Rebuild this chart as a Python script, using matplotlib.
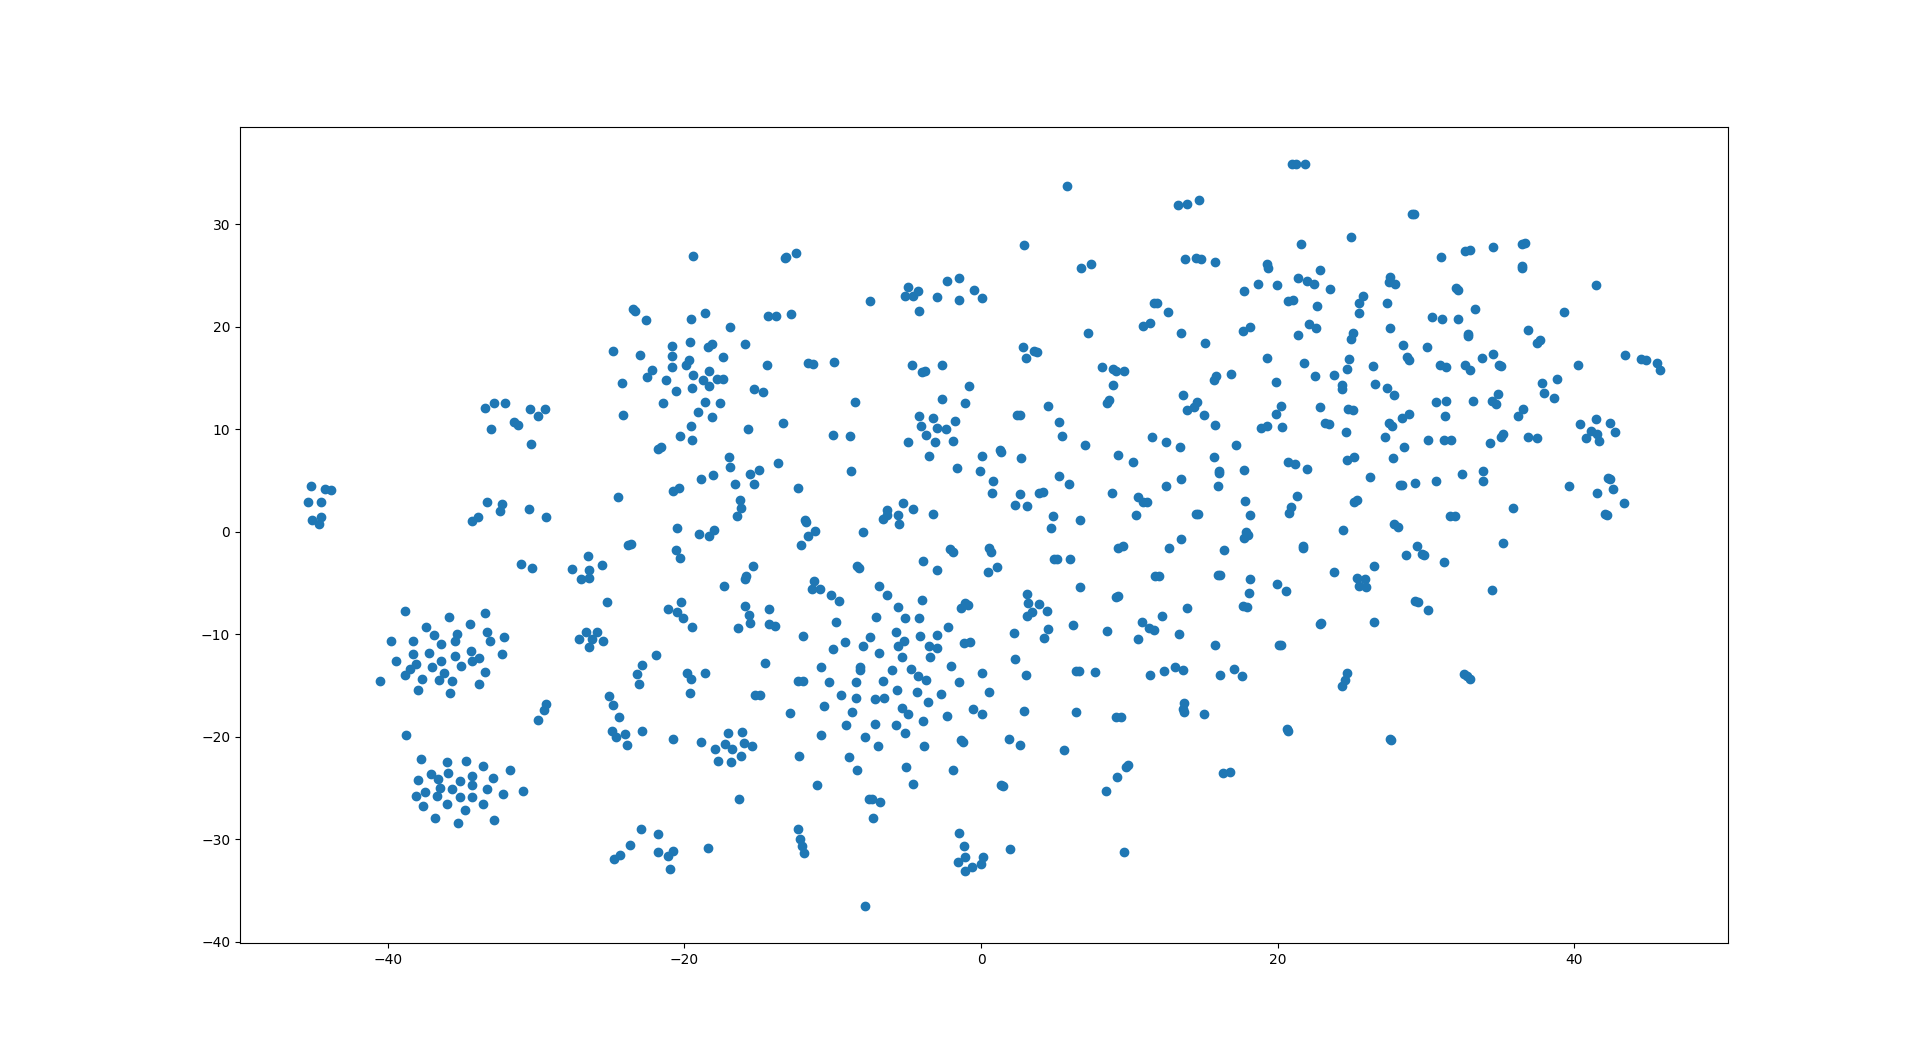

import numpy as np
import matplotlib
matplotlib.use("Agg")
import matplotlib.pyplot as plt

far_left = [
    (-45.2, 4.45), (-44.2, 4.15), (-43.8, 4.06), (-45.4, 2.89), (-44.5, 2.89), (-45.1, 1.13),
    (-44.5, 1.42), (-44.65, 0.74), (-33.3, 2.89), (-32.3, 2.69), (-32.45, 2.0), (-33.9, 1.42),
    (-34.3, 1.03), (-30.5, 2.2), (-29.35, 1.42), (-33.46, 12.06), (-32.85, 12.55), (-32.1, 12.6),
    (-30.4, 11.96), (-29.4, 11.96), (-29.9, 11.28), (-31.46, 10.69), (-31.2, 10.4), (-33.06, 10.0),
    (-30.36, 8.55), (-31.03, -3.16), (-30.3, -3.55), (-26.5, -2.38), (-25.57, -3.26), (-27.6, -3.65),
    (-26.4, -3.75), (-27.0, -4.63), (-26.4, -4.53), (-25.24, -6.87), (-26.65, -9.8), (-25.9, -9.8),
    (-27.1, -10.48), (-26.25, -10.48), (-25.5, -10.67), (-26.4, -11.26),
]
cluster_a = [
    (-38.84, -7.75), (-35.88, -8.34), (-33.45, -7.95), (-34.46, -9.02), (-37.43, -9.31), (-36.9, -10.09),
    (-35.34, -10.0), (-33.32, -9.8), (-32.17, -10.29), (-39.79, -10.68), (-38.3, -10.68), (-36.42, -10.97),
    (-35.47, -10.68), (-33.11, -10.68), (-38.3, -11.95), (-37.23, -11.85), (-34.39, -11.65), (-35.47, -12.14),
    (-33.85, -12.34), (-34.33, -12.63), (-32.3, -11.95), (-39.45, -12.63), (-36.42, -12.63), (-38.1, -12.92),
    (-37.02, -13.21), (-35.07, -13.12), (-38.5, -13.41), (-38.84, -14.0), (-36.2, -13.8), (-33.45, -13.7),
    (-37.7, -14.39), (-36.55, -14.48), (-35.68, -14.58), (-40.53, -14.58), (-33.85, -14.87), (-37.97, -15.46),
    (-35.81, -15.75),
]
cluster_b = [
    (-38.79, -19.84), (-37.78, -22.19), (-36.02, -22.48), (-34.74, -22.38), (-33.6, -22.87), (-31.78, -23.26),
    (-37.1, -23.65), (-35.96, -23.55), (-36.63, -24.14), (-37.98, -24.23), (-34.34, -23.84), (-32.92, -24.04),
    (-35.15, -24.33), (-34.34, -24.72), (-36.5, -25.02), (-35.69, -25.11), (-33.33, -25.11), (-37.5, -25.4),
    (-38.1, -25.8), (-36.7, -25.8), (-35.15, -25.89), (-34.34, -25.89), (-32.25, -25.6), (-30.9, -25.3),
    (-37.64, -26.77), (-36.02, -26.58), (-33.6, -26.58), (-34.81, -27.16), (-36.83, -27.94), (-35.28, -28.43),
    (-32.85, -28.14), (-29.35, -16.82), (-29.48, -17.4), (-29.89, -18.38),
]
lower_left = [
    (-25.1, -16.04), (-24.83, -16.92), (-24.43, -18.09), (-24.9, -19.45), (-24.63, -20.04), (-24.02, -19.75),
    (-22.88, -19.45), (-23.89, -20.82), (-20.79, -20.23), (-18.9, -20.53), (-17.96, -21.21), (-17.75, -22.38),
    (-22.95, -29.0), (-21.8, -29.5), (-23.69, -30.58), (-24.36, -31.55), (-24.77, -31.94), (-21.8, -31.26),
    (-20.79, -31.16), (-21.13, -31.65), (-20.99, -32.92), (-18.43, -30.87), (-23.2, -13.89), (-23.08, -14.87),
    (-19.84, -13.73), (-19.57, -14.38), (-19.64, -15.75), (-18.63, -13.73),
    (-17.07, -19.65), (-16.12, -19.55), (-17.27, -20.72), (-15.99, -20.63), (-15.45, -20.92), (-16.8, -21.21),
    (-16.19, -21.89), (-16.87, -22.48), (-12.28, -21.89), (-16.33, -26.09), (-11.07, -24.72),
]
middle = [
    (-20.8, 3.95), (-20.38, 4.25), (-16.6, 4.64), (-15.32, 4.64), (-12.36, 4.25), (-16.27, 3.08),
    (-16.2, 2.3), (-16.47, 1.52), (-20.51, 0.34), (-19.03, -0.24), (-18.36, -0.44), (-18.02, 0.15),
    (-11.89, 1.13), (-11.82, 0.93), (-11.2, 0.05), (-11.68, -0.44), (-12.16, -1.31), (-5.28, 2.78),
    (-6.36, 2.1), (-4.6, 2.2), (-5.62, 1.61), (-6.63, 1.22), (-6.36, 1.61), (-5.55, 0.73),
    (-3.26, 1.71), (-7.98, -0.05), (0.52, -1.61), (0.65, -2.0), (1.06, -3.46), (0.45, -3.95),
    (-2.11, -1.7), (-1.91, -2.0), (-3.93, -2.87), (-2.99, -3.75), (-8.34, -3.36), (-8.2, -3.56),
    (-23.82, -1.28), (-23.62, -1.18), (-20.58, -1.8), (-20.31, -2.58), (-15.4, -3.36), (-15.86, -4.34),
    (-15.93, -4.63), (-17.35, -5.31), (-11.28, -4.83), (-11.41, -5.61), (-10.87, -5.61), (-10.13, -6.19),
    (-9.59, -6.78), (-6.9, -5.31), (-6.36, -6.19), (-4.0, -6.68), (-5.62, -7.36), (-1.1, -6.97),
    (-0.9, -7.17), (-1.37, -7.46), (-20.25, -6.87), (-21.12, -7.56), (-20.51, -7.85), (-20.11, -8.44),
    (-19.5, -9.31), (-15.93, -7.27), (-15.66, -8.14), (-15.59, -8.92), (-16.4, -9.41), (-14.31, -7.56),
    (-14.31, -9.02), (-13.91, -9.22), (-9.8, -8.83), (-7.1, -8.34), (-5.14, -8.44), (-4.2, -8.44),
    (-2.24, -9.31), (-5.75, -9.8), (-12.0, -10.19), (-7.5, -10.29), (-4.13, -10.19), (-2.99, -10.09),
    (-9.19, -10.78), (-5.21, -10.68), (-5.62, -11.17), (-7.98, -11.17), (-3.53, -11.17), (-2.99, -11.36),
    (-1.17, -10.88), (-0.76, -10.78), (-10.0, -11.46), (-6.9, -11.85), (-5.35, -12.24), (-3.46, -12.24),
    (-21.93, -12.05), (-22.87, -13.02), (-14.58, -12.83), (-10.81, -13.22), (-8.18, -13.22), (-8.18, -13.51),
    (-6.02, -13.51), (-4.74, -13.41), (-2.04, -13.12), (-4.27, -14.1), (-3.73, -14.48), (0.05, -13.8),
    (-12.36, -14.58), (-12.02, -14.58), (-10.27, -14.68), (-8.45, -14.68), (-6.63, -14.58), (-1.5, -14.68),
    (-5.68, -15.46), (-4.34, -15.66), (-2.72, -15.85), (0.52, -15.66), (-15.26, -15.95), (-14.92, -15.95),
    (-9.46, -15.95), (-8.45, -16.24), (-7.17, -16.34), (-6.56, -16.24), (-3.59, -16.63), (-10.6, -17.02),
    (-5.35, -17.22), (-0.56, -17.31), (-8.72, -17.61), (-4.94, -17.8), (0.05, -17.8), (-12.9, -17.7),
    (-2.31, -18.0), (-3.93, -18.48), (-9.12, -18.87), (-7.17, -18.78), (-5.75, -18.87), (-5.14, -19.65),
    (-10.81, -19.85), (-7.84, -20.05), (-1.37, -20.34), (-1.23, -20.53), (-6.96, -20.92), (-3.86, -20.92),
]
lower_middle = [
    (2.89, -17.5), (6.37, -17.6), (1.88, -20.23), (2.62, -20.82), (5.58, -21.31),
    (-8.91, -21.99), (-8.37, -23.26), (-5.07, -22.97), (-1.9, -23.26), (-4.6, -24.62), (1.34, -24.72),
    (1.47, -24.82), (-7.56, -26.09), (-7.36, -26.09), (-6.82, -26.38), (-7.29, -27.94), (-12.35, -29.0),
    (-12.21, -29.99), (-12.08, -30.67), (-11.94, -31.36), (-1.5, -29.4), (-1.16, -30.67), (-1.09, -31.75),
    (-1.56, -32.23), (0.12, -31.75), (-0.01, -32.43), (-0.62, -32.72), (-1.09, -33.11), (1.94, -30.97),
    (-7.83, -36.53),
]
upper_left = [
    (-19.43, 26.88), (-13.23, 26.69), (-13.14, 26.78), (-12.49, 27.17), (-23.47, 21.71), (-23.34, 21.52),
    (-22.6, 20.64), (-19.56, 20.73), (-18.62, 21.32), (-16.94, 19.95), (-14.37, 21.03), (-13.83, 21.03),
    (-12.82, 21.22), (-7.5, 22.49), (-4.94, 23.86), (-4.26, 23.47), (-5.14, 22.98), (-4.6, 22.98),
    (-2.98, 22.88), (-2.31, 24.44), (-1.5, 24.73), (-1.5, 22.59), (-4.19, 21.52), (-24.82, 17.61),
    (-23.0, 17.22), (-20.85, 18.1), (-19.63, 18.49), (-18.15, 18.3), (-18.42, 18.0), (-15.92, 18.3),
    (-20.85, 17.12), (-19.7, 16.73), (-19.9, 16.25), (-17.41, 17.03), (-20.85, 16.05), (-22.19, 15.76),
    (-22.53, 15.08), (-18.35, 15.66), (-19.43, 15.27), (-21.25, 14.78), (-18.76, 14.78), (-17.81, 14.88),
    (-17.41, 14.88), (-24.22, 14.49), (-19.5, 14.0), (-18.35, 14.2), (-15.32, 13.9), (-14.71, 13.61),
    (-20.58, 13.71), (-14.44, 16.25), (-11.68, 16.44), (-11.34, 16.34), (-9.92, 16.54), (-4.67, 16.25),
    (-3.95, 15.6), (-3.8, 15.72), (-2.64, 16.25), (-21.45, 12.54), (-18.62, 12.64), (-17.61, 12.54),
    (-8.51, 12.64), (-2.64, 12.93), (-19.09, 11.66), (-24.15, 11.37), (-18.15, 11.17), (-4.19, 11.27),
    (-3.25, 11.08), (-1.77, 10.78), (-4.06, 10.3), (-2.98, 10.1), (-2.37, 10.0), (-13.36, 10.59),
    (-19.56, 10.3), (-15.72, 10.0), (-3.72, 9.42), (-20.3, 9.32), (-9.99, 9.42), (-8.85, 9.32),
    (-19.5, 8.93), (-4.94, 8.73), (-3.11, 8.73), (-1.9, 8.83), (-21.79, 8.05), (-21.59, 8.25),
    (-3.52, 7.37), (-17.0, 7.27), (-16.94, 6.3), (-13.7, 6.69), (-1.63, 6.2), (-14.98, 6.0),
    (-15.59, 5.61), (-18.08, 5.52), (-18.89, 5.13), (-8.78, 5.9), (-24.45, 3.45),
]
upper_centre = [
    (5.8, 33.7), (13.3, 31.85), (13.9, 32.0), (14.7, 32.4), (-0.48, 23.56), (0.06, 22.78),
    (2.89, 27.95), (6.73, 25.71), (7.41, 26.1), (13.74, 26.59), (14.49, 26.69), (14.82, 26.59),
    (15.77, 26.3), (11.65, 22.3), (11.86, 22.3), (12.6, 21.42), (10.91, 20.05), (11.38, 20.34),
    (13.47, 19.37), (15.09, 18.39), (7.2, 19.37), (2.82, 18.0), (3.56, 17.61), (3.77, 17.52),
    (3.03, 16.93), (8.15, 16.05), (8.89, 15.86), (9.09, 15.66), (9.63, 15.66), (8.89, 14.3),
    (16.85, 15.37), (15.83, 15.17), (15.7, 14.78), (8.49, 12.54), (8.62, 12.83), (13.61, 13.32),
    (14.55, 12.64), (14.35, 12.15), (13.88, 11.86), (15.02, 11.37), (15.77, 10.39), (4.51, 12.25),
    (-0.82, 14.2), (-1.09, 12.54), (2.4, 11.37), (2.6, 11.37), (5.25, 10.69), (5.45, 9.32),
    (7.0, 8.44), (11.52, 9.22), (12.46, 8.73), (13.41, 8.25), (17.18, 8.44), (1.27, 7.95),
    (1.34, 7.76), (0.06, 7.37), (2.69, 7.17), (9.23, 7.47), (10.24, 6.78), (15.7, 7.27),
    (-0.08, 5.9), (16.04, 5.9), (16.04, 5.7), (17.72, 6.0), (0.8, 4.93), (5.25, 5.42),
    (5.92, 4.64), (13.47, 5.13), (12.46, 4.44), (15.97, 4.44), (0.73, 3.76), (2.62, 3.66),
    (3.9, 3.76), (4.17, 3.86), (8.82, 3.76),
]
lower_centre = [
    (2.28, 2.59), (3.09, 2.49), (10.58, 3.37), (10.91, 2.88), (11.18, 2.88), (10.44, 1.61),
    (17.79, 2.98), (18.13, 1.61), (21.3, 3.47), (20.89, 2.39), (20.76, 1.81), (25.34, 3.08),
    (25.14, 2.88), (4.85, 1.52), (6.67, 1.13), (4.71, 0.34), (14.5, 1.71), (14.62, 1.71),
    (9.56, -1.41), (9.23, -1.61), (17.86, -0.05), (17.99, -0.34), (17.72, -0.63), (24.4, 0.15),
    (13.47, -0.73), (12.67, -1.61), (16.37, -1.8), (21.7, -1.35), (21.7, -1.6), (4.91, -2.68),
    (5.12, -2.68), (5.99, -2.68), (26.49, -3.36), (23.79, -3.95), (11.7, -4.34), (12.0, -4.34),
    (16.0, -4.24), (16.1, -4.24), (18.13, -4.63), (6.67, -5.41), (25.34, -4.53), (25.88, -4.63),
    (25.47, -5.31), (25.97, -5.41), (19.95, -5.12), (20.55, -5.8), (18.06, -6.0), (9.23, -6.29),
    (9.09, -6.39), (3.09, -6.1), (3.16, -6.97), (3.9, -7.07), (4.44, -7.75), (3.43, -7.85),
    (3.09, -8.24), (13.88, -7.46), (17.65, -7.27), (17.92, -7.36), (12.19, -8.24), (10.85, -8.83),
    (11.32, -9.41), (11.65, -9.61), (6.19, -9.12), (4.51, -9.51), (4.24, -10.39), (2.22, -9.9),
    (8.49, -9.7), (10.58, -10.49), (13.34, -9.99), (15.77, -11.07), (20.1, -11.07), (20.25, -11.07),
    (22.85, -8.98), (22.95, -8.86), (26.49, -8.83), (2.28, -12.44), (3.03, -14.0), (6.4, -13.61),
    (6.6, -13.61), (7.68, -13.7), (11.39, -14.0), (12.33, -13.61), (13.07, -13.22), (13.61, -13.51),
    (16.1, -14.0), (17.05, -13.41), (17.59, -14.1), (24.67, -13.8), (24.53, -14.48), (24.33, -15.07),
    (13.68, -16.73), (13.61, -17.31), (13.68, -17.61), (15.03, -17.8), (9.09, -18.09), (9.43, -18.09),
    (20.6, -19.2), (20.72, -19.4), (9.16, -23.94), (9.77, -22.97), (9.9, -22.77), (8.42, -25.31),
    (16.3, -23.55), (16.78, -23.45), (9.63, -31.26), (27.55, -20.2), (27.65, -20.27), (32.55, -13.89),
    (32.75, -14.1), (32.96, -14.38),
]
upper_right = [
    (20.96, 35.86), (21.23, 35.86), (21.86, 35.86), (29.05, 31.05), (29.18, 30.98), (24.94, 28.74),
    (21.56, 28.05), (19.27, 26.1), (19.34, 25.71), (22.85, 25.52), (21.36, 24.74), (21.97, 24.45),
    (22.44, 24.15), (18.67, 24.15), (19.95, 24.05), (17.72, 23.47), (23.52, 23.67), (20.69, 22.55),
    (21.03, 22.65), (22.64, 22.01), (25.74, 22.98), (25.48, 22.3), (25.48, 21.32), (27.36, 22.3),
    (27.56, 24.87), (27.5, 24.35), (27.9, 24.15), (31.0, 26.79), (32.62, 27.37), (32.96, 27.47),
    (34.51, 27.76), (36.5, 28.05), (36.7, 28.15), (36.46, 25.9), (36.46, 25.7), (41.45, 24.05),
    (32.05, 23.8), (32.15, 23.6), (33.3, 21.71), (30.4, 20.93), (31.07, 20.74), (32.15, 20.74),
    (39.3, 21.42), (22.1, 20.25), (22.58, 19.86), (18.13, 19.96), (17.65, 19.56), (21.36, 19.18),
    (27.56, 19.86), (25.07, 19.37), (24.94, 18.79), (32.82, 19.3), (32.82, 19.1), (36.87, 19.67),
    (37.68, 18.69), (37.47, 18.4), (28.44, 18.2), (30.06, 18.0), (28.71, 17.03), (28.85, 16.74),
    (19.27, 16.93), (21.77, 16.45), (24.8, 16.84), (24.67, 15.86), (26.42, 16.15), (30.94, 16.25),
    (31.34, 16.06), (32.62, 16.25), (32.96, 15.76), (33.77, 16.93), (34.51, 17.32), (34.95, 16.25),
    (35.05, 16.15), (40.24, 16.25), (19.88, 14.59), (22.51, 15.18), (23.79, 15.28), (24.33, 14.3),
    (24.33, 13.91), (26.55, 14.4), (27.36, 14.0), (27.83, 13.32), (37.81, 14.49), (38.82, 14.88),
    (37.95, 13.52), (38.62, 13.03), (34.85, 13.42), (43.4, 17.3), (44.5, 16.9), (44.8, 16.8),
    (45.6, 16.5), (45.8, 15.8),
]
right = [
    (30.67, 12.64), (31.34, 12.73), (33.16, 12.73), (34.44, 12.73), (34.71, 12.44), (31.27, 11.27),
    (28.85, 11.47), (28.37, 11.08), (36.53, 11.95), (36.19, 11.27), (27.5, 10.59), (27.7, 10.3),
    (27.23, 9.22), (28.51, 8.25), (27.77, 7.17), (30.13, 8.93), (31.2, 8.93), (31.68, 8.93),
    (34.31, 8.64), (35.05, 9.22), (35.18, 9.52), (36.87, 9.22), (37.48, 9.12), (40.37, 10.49),
    (41.45, 10.98), (42.4, 10.59), (42.73, 9.71), (41.12, 9.81), (41.52, 9.51), (40.78, 9.12),
    (41.65, 8.83), (26.22, 5.32), (32.42, 5.61), (33.83, 5.9), (33.83, 4.93), (30.67, 4.93),
    (29.25, 4.73), (28.22, 4.54), (28.38, 4.54), (39.63, 4.44), (42.28, 5.3), (42.38, 5.2),
    (42.6, 4.15), (41.52, 3.76), (43.34, 2.78), (42.05, 1.76), (42.2, 1.66), (35.86, 2.3),
    (31.61, 1.52), (31.95, 1.52), (27.84, 0.73), (28.1, 0.44), (35.18, -1.12), (29.4, -1.41),
    (28.64, -2.29), (29.72, -2.15), (29.86, -2.23), (31.2, -2.97), (34.44, -5.7), (29.25, -6.78),
    (29.45, -6.88), (30.13, -7.66), (20.22, 12.25), (19.88, 11.47), (22.85, 12.15), (24.73, 11.96),
    (25.07, 11.86), (18.87, 10.1), (19.27, 10.3), (20.28, 10.2), (23.18, 10.59), (23.45, 10.5),
    (24.6, 9.71), (20.69, 6.79), (21.16, 6.59), (21.97, 6.1), (24.67, 6.98), (25.14, 7.28),
]
groups = [far_left, cluster_a, cluster_b, lower_left, middle, lower_middle,
          upper_left, upper_centre, lower_centre, upper_right, right]


def main():
    pts = np.array([p for g in groups for p in g])
    fig, ax = plt.subplots(figsize=(19.2, 10.6), dpi=100)
    ax.scatter(pts[:, 0], pts[:, 1])
    fig.savefig("out.png", dpi=100)


if __name__ == "__main__":
    main()
